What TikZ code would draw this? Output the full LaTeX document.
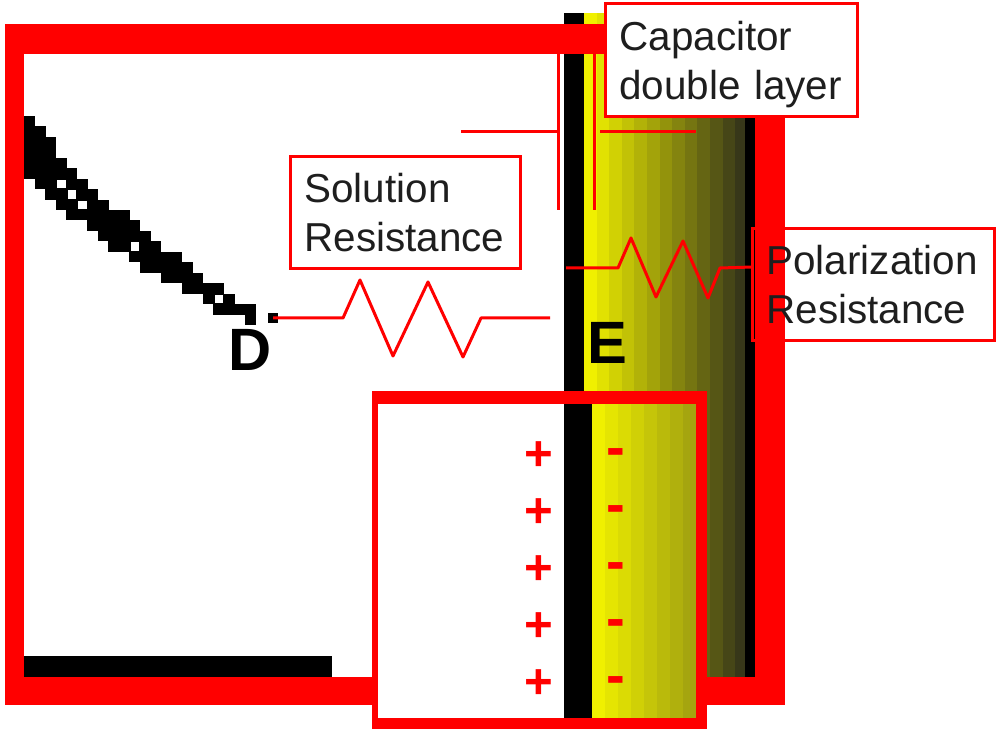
\documentclass[tikz,border=0pt]{standalone}
\usepackage{fontspec}
\setmainfont{Liberation Sans}
\definecolor{bandhi}{RGB}{240,240,0}
\definecolor{bandlo}{RGB}{55,55,25}
\definecolor{zoomlo}{RGB}{165,165,15}
\definecolor{inktext}{RGB}{30,30,30}
\tikzset{
 wire/.style={draw=red, line width=.3mm, line join=round},
 labelbox/.style={draw=red, line width=.3mm, anchor=north west, align=left, text=inktext,
  font=\fontsize{11.5}{13.9}\selectfont, inner xsep=1.4mm},
 bigletter/.style={anchor=base, font=\fontsize{17}{17}\selectfont\bfseries},
 plussign/.style={anchor=base, text=red, inner sep=0pt, font=\fontsize{14}{14}\selectfont\bfseries},
 minussign/.style={anchor=base, text=red, inner sep=0pt, font=\fontsize{16}{16}\selectfont\bfseries},
}
\begin{document}
\begin{tikzpicture}[x=.1mm, y=-.1mm]
        \useasboundingbox (0, 0) rectangle (1000, 736);
        % electrode
        \foreach \i [evaluate=\i as \p using 100-\i*100/12] in {0, ..., 12} {
            \fill[bandhi!\p!bandlo] (584+\i*12.6, 13) rectangle (597+\i*12.6, 677);
        }
        \fill[black] (564, 13) rectangle (584, 677);
        \fill[black] (745, 13) rectangle (755, 677);
        % cell walls
        \fill[red] (5, 24) rectangle (785, 54);
        \fill[red] (5, 24) rectangle (24, 705);
        \fill[red] (755, 24) rectangle (785, 705);
        \fill[red] (5, 677) rectangle (785, 705);
        \fill[black] (24, 656) rectangle (332, 677);
        % reference electrode, block by block
        \foreach \i/\a/\b in {0/0/6, 1/1/7, 2/2/8, 3/4/9, 4/5/10, 5/6/10, 6/7/11, 7/8/12, 8/9/13, 9/9/13,
          10/10/14, 11/11/15, 12/12/15, 13/13/16, 14/13/16, 15/14/17, 16/15/17, 17/16/18, 18/16/19,
          19/17/19, 20/18/19, 21/18/20} {
            \fill[black] (24+\i*10.5, 116+\a*10.45) rectangle (35+\i*10.5, 116+\b*10.45);
        }
        \foreach \i/\a in {3/6, 4/7, 5/8, 10/12, 18/17} {
            \fill[white] (25.5+\i*10.5, 117+\a*10.45) rectangle (34+\i*10.5, 125.5+\a*10.45);
        }
        % magnified part
        \fill[red] (372, 391) rectangle (707, 729);
        \fill[white] (378, 404) rectangle (696, 718);
        \fill[black] (564, 404) rectangle (592, 718);
        \foreach \i [evaluate=\i as \p using 100-\i*100/7] in {0, ..., 7} {
            \fill[bandhi!\p!zoomlo] (592+\i*13, 404) rectangle ({min(696,606+\i*13)}, 718);
        }
        \foreach \y in {0, ..., 4} {
            \node[plussign] (plus\y) at (539, 471+\y*57) {+};
            \node[minussign] (minus\y) at (615.5, 467+\y*57) {-};
        }
        \node[bigletter] (dlabel) at (250, 371) {D};
        \node[bigletter] (elabel) at (607, 364) {E};
        % circuit
        \node[fill=black, inner sep=0pt, minimum size=1mm] (dtip) at (273, 318) {};
        \coordinate (solend) at (550, 318);
        \coordinate (polstart) at (566, 268);
        \coordinate (polend) at (753, 267);
        \coordinate (plateL) at (558, 54);
        \coordinate (plateLend) at (558, 210);
        \coordinate (plateR) at (594, 54);
        \coordinate (plateRend) at (594, 210);
        \coordinate (capL) at (461, 132);
        \coordinate (capR) at (696, 132);
        \draw[wire] (dtip.center) -- (343, 318) -- (360, 280) -- (393, 356) -- (428, 282) -- (463, 357) -- (481, 318) -- (solend);
        \draw[wire] (polstart) -- (618, 268) -- (631, 238) -- (656, 297) -- (683, 241) -- (708, 298) -- (720, 268) -- (polend);
        \draw[wire] (plateL) -- (plateLend);
        \draw[wire] (plateR) -- (plateRend);
        \draw[wire] (capL) -- (plateL |- capL);
        \draw[wire] (plateR |- capR) ++(6, 0) -- (capR);
        % labels
        \node[labelbox, fill=white, text width=22.4mm, minimum height=11.3mm] (capbox) at (604, 2) {Capacitor\\\raisebox{0pt}[\height][0pt]{double layer}};
        \node[labelbox, text width=20.2mm, minimum height=11.2mm] (solbox) at (289, 155) {Solution\\Resistance};
        \node[labelbox, text width=21.4mm, minimum height=11.2mm] (polbox) at (751, 227) {Polarization\\Resistance};
\end{tikzpicture}
\end{document}
